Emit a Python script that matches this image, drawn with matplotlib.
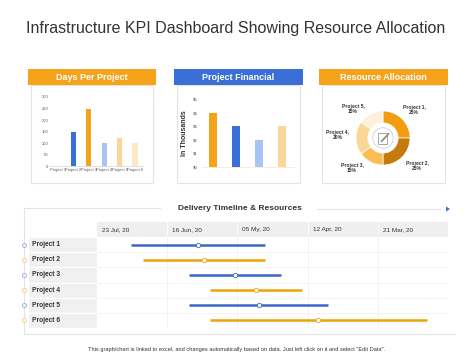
import matplotlib
matplotlib.use("Agg")
import matplotlib.pyplot as plt
from matplotlib.patches import Rectangle, Circle, Polygon

plt.rcParams['font.family'] = ['Liberation Sans', 'DejaVu Sans']

W, H = 474, 355

title = "Infrastructure KPI Dashboard Showing Resource Allocation"
footer = ('This graph/chart is linked to excel, and changes automatically based on data. '
          'Just left click on it and select "Edit Data".')

# Days per project
day_projects = ["Project 1", "Project 2", "Project 3", "Project 4", "Project 5", "Project 6"]
day_values = [0, 150, 250, 100, 120, 100]
day_colors = ["#3b6fd8", "#3b6fd8", "#f5a31a", "#a9c3f2", "#fcd59b", "#fde9c8"]
day_ticks = [0, 50, 100, 150, 200, 250, 300]

# Project financial (in thousands)
fin_values = [4, 3, 2, 3]
fin_colors = ["#f5a31a", "#3b6fd8", "#a9c3f2", "#fcd59b"]
fin_ticks = [0, 1, 2, 3, 4, 5]

# Resource allocation
res_projects = ["Project 1", "Project 2", "Project 3", "Project 4", "Project 5"]
res_shares = [25, 25, 15, 20, 15]
res_colors = ["#f39c12", "#c47a0c", "#f8bd55", "#fbd796", "#fdf0dc"]

# Delivery timeline (positions in date-column units)
tl_dates = ["23 Jul, 20", "16 Jun, 20", "05 My, 20", "12 Apr, 20", "21 Mar, 20"]
tl_projects = ["Project 1", "Project 2", "Project 3", "Project 4", "Project 5", "Project 6"]
tl_start = [0.48, 0.65, 1.31, 1.61, 1.31, 1.61]
tl_end = [2.39, 2.39, 2.62, 2.92, 3.29, 4.70]
tl_mark = [1.44, 1.52, 1.97, 2.26, 2.31, 3.15]

BLUE = "#3b66c9"
ORANGE = "#f0a30a"
HEAD_ORANGE = "#f5a31a"
HEAD_BLUE = "#3b6fd8"

fig = plt.figure(figsize=(W / 100, H / 100), dpi=100)


def px_axes(x0, y0, x1, y1):
    return fig.add_axes([x0 / W, 1 - y1 / H, (x1 - x0) / W, (y1 - y0) / H])


bg = fig.add_axes([0, 0, 1, 1])
bg.set_xlim(0, W)
bg.set_ylim(H, 0)
bg.axis('off')

bg.text(236, 28, title, ha='center', va='center', fontsize=11.5, color='#333333')

# panel frames and headers
panels = [(28, 156, HEAD_ORANGE, "Days Per Project"),
          (174, 303, HEAD_BLUE, "Project Financial"),
          (319, 448, HEAD_ORANGE, "Resource Allocation")]
for x0, x1, col, name in panels:
    bg.add_patch(Rectangle((x0 + 3, 85), x1 - x0 - 6, 98, fc='white', ec='#e4e4e4', lw=0.8))
    bg.add_patch(Rectangle((x0, 69), x1 - x0, 16, fc=col, ec='none'))
    bg.text((x0 + x1) / 2, 77, name, ha='center', va='center', fontsize=6.5,
            fontweight='bold', color='white')

# timeline panel frame
bg.plot([24, 24, 160], [334, 208, 208], color='#e4e4e4', lw=0.8)
bg.plot([24, 455], [334, 334], color='#e4e4e4', lw=0.8)
bg.text(240, 209, "Delivery Timeline & Resources", ha='center', va='center',
        fontsize=6, fontweight='bold', color='#333333')
bg.plot([317, 440], [209, 209], color='#e6e6e6', lw=0.8)
bg.add_patch(Polygon([[446, 206.5], [446, 211.5], [450, 209]], closed=True, fc=HEAD_BLUE, ec='none'))

bg.text(237, 350, footer, ha='center', va='center', fontsize=4.1, color='#333333')

# Days per project bars
ax1 = px_axes(50.3, 97, 142.7, 166)
ax1.bar(range(len(day_values)), day_values, width=0.35, color=day_colors)
ax1.set_xlim(-0.5, len(day_values) - 0.5)
ax1.set_ylim(0, 300)
ax1.set_yticks(day_ticks)
ax1.set_xticks(range(len(day_projects)))
ax1.set_xticklabels(day_projects)
ax1.tick_params(length=0, labelsize=3, labelcolor='#555555', pad=1.5)
for s in ['top', 'right', 'left']:
    ax1.spines[s].set_visible(False)
ax1.spines['bottom'].set_color('#d9d9d9')
ax1.spines['bottom'].set_linewidth(0.6)

# Project financial bars
ax2 = px_axes(201.5, 99, 293.5, 167)
ax2.bar(range(len(fin_values)), fin_values, width=0.35, color=fin_colors)
ax2.set_xlim(-0.5, len(fin_values) - 0.5)
ax2.set_ylim(0, 5)
ax2.set_yticks(fin_ticks)
ax2.set_yticklabels(["$%d" % t for t in fin_ticks])
ax2.set_xticks([])
ax2.tick_params(length=0, labelsize=3.2, labelcolor='#555555', pad=3)
ax2.set_ylabel("In Thousands", fontsize=5, fontweight='bold', color='#333333', labelpad=3)
for s in ['top', 'right', 'left']:
    ax2.spines[s].set_visible(False)
ax2.spines['bottom'].set_color('#fde9c8')
ax2.spines['bottom'].set_linewidth(0.6)

# Resource allocation donut
ax3 = px_axes(383 - 27, 138 - 27, 383 + 27, 138 + 27)
ax3.pie(res_shares, colors=res_colors, startangle=90, counterclock=False,
        wedgeprops=dict(width=0.44, edgecolor='white', linewidth=0.5))
ax3.add_patch(Circle((0, 0), 0.38, fc='white', ec='#d0d0d0', lw=0.6))
ax3.add_patch(Rectangle((-0.17, -0.22), 0.3, 0.42, fc='white', ec='#999999', lw=0.6))
ax3.plot([-0.05, 0.2], [-0.12, 0.15], color='#888888', lw=1.2)
ax3.set_xlim(-1, 1)
ax3.set_ylim(-1, 1)
ax3.set_aspect('equal')
ax3.axis('off')

res_label_pos = [(414, 110), (417, 166), (352, 168), (338, 135), (353, 109)]
for (lx, ly), name, share in zip(res_label_pos, res_projects, res_shares):
    bg.text(lx, ly, "%s,\n%d%%" % (name, share), ha='center', va='center',
            fontsize=3.6, fontweight='bold', color='#333333', linespacing=0.95)

# Delivery timeline
lab_w = (97 - 28) / 70.2
ax4 = px_axes(28, 222, 448, 328)
ax4.set_xlim(-lab_w, len(tl_dates))
ax4.set_ylim(len(tl_projects) - 0.5, -1.5)
ax4.axis('off')

ax4.add_patch(Rectangle((0, -1.5), len(tl_dates), 1, fc='#efefef', ec='none'))
for i, d in enumerate(tl_dates):
    ax4.text(i + 0.07, -1, d, ha='left', va='center', fontsize=4.6, color='#333333')
    if i > 0:
        ax4.plot([i, i], [-1.5, -0.5], color='white', lw=0.6)
        ax4.plot([i, i], [-0.5, len(tl_projects) - 0.5], color='#f0f0f0', lw=0.6)
for r in range(len(tl_projects)):
    ax4.plot([0, len(tl_dates)], [r + 0.5, r + 0.5], color='#f2f2f2', lw=0.6)

for r, name in enumerate(tl_projects):
    col = BLUE if r % 2 == 0 else ORANGE
    ax4.add_patch(Rectangle((-lab_w, r - 0.5), lab_w, 1, fc='#f0f0f0', ec='white', lw=1))
    ax4.text(-lab_w + 0.06, r, name, ha='left', va='center', fontsize=4.8,
             fontweight='bold', color='#333333')
    ax4.hlines(r, tl_start[r], tl_end[r], color=col, lw=1.8)
    ax4.plot(tl_mark[r], r, 'o', mfc='white', mec=col, ms=3.2, mew=0.6)
    ax4.plot(-lab_w - 0.057, r, 'o', mfc='white', mec=('#8aa6dc' if r % 2 == 0 else '#f3c77a'),
             ms=2.8, mew=0.6, clip_on=False)

fig.savefig("out.png", dpi=100)
